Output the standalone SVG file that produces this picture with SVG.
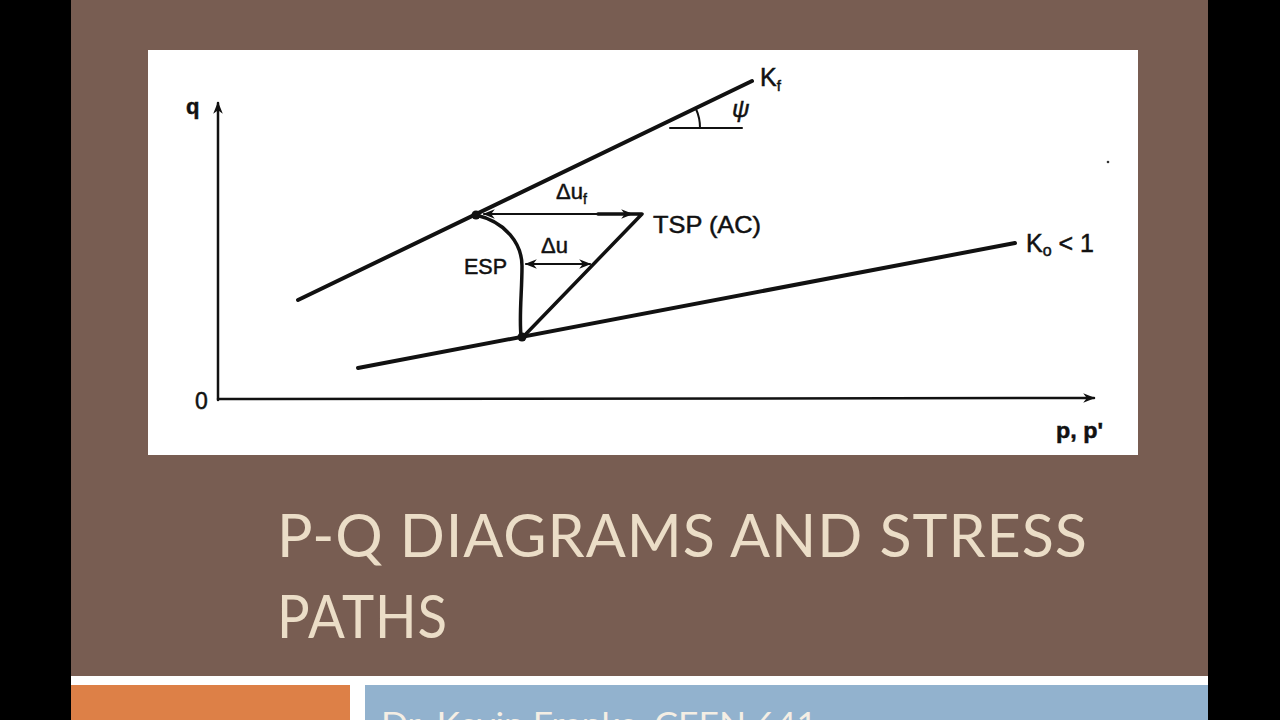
<svg xmlns="http://www.w3.org/2000/svg" width="1280" height="720" viewBox="0 0 1280 720">
<defs>
<style>
.ln{fill:none;stroke:#111;stroke-linecap:round;stroke-linejoin:round}
.lbl{font-family:"Liberation Sans",Arial,sans-serif;fill:#111;stroke:#111;stroke-width:0.5}
.title{font-family:Lato,"Noto Sans",sans-serif;fill:#EBDDC7;font-size:60px;letter-spacing:1px}
</style>
<marker id="ahs" viewBox="0 0 10 10" refX="9" refY="5" markerWidth="14" markerHeight="12" orient="auto-start-reverse" markerUnits="userSpaceOnUse">
<path d="M0,1 L10,5 L0,9 L3,5 Z" fill="#111"/>
</marker>
</defs>
<rect x="0" y="0" width="1280" height="720" fill="#000"/>
<rect x="71" y="0" width="1137" height="676" fill="#785D52"/>
<rect x="71" y="676" width="1137" height="44" fill="#FFFFFF"/>
<rect x="71" y="685" width="279" height="35" fill="#DD8047"/>
<rect x="365" y="685" width="843" height="35" fill="#92B2CE"/>
<text x="381" y="736" font-family="Lato,'Noto Sans',sans-serif" font-size="32" fill="#F4EEE4" textLength="436" lengthAdjust="spacingAndGlyphs">Dr. Kevin Franke, CEEN 641</text>

<g id="figure">
<rect x="148" y="50" width="990" height="405" fill="#FFFFFF"/>
</g>

<g id="axes">
<line class="ln" x1="218" y1="400" x2="218" y2="103" stroke-width="2.5" marker-end="url(#ahs)"/>
<line class="ln" x1="218" y1="399" x2="1094" y2="398" stroke-width="2.5" marker-end="url(#ahs)"/>
<text class="lbl" x="186" y="114" font-size="22" font-weight="bold">q</text>
<text class="lbl" x="195" y="409" font-size="23">0</text>
<text class="lbl" x="1056" y="438" font-size="22" font-weight="bold" textLength="47" lengthAdjust="spacingAndGlyphs">p, p'</text>
</g>

<g id="connectors">
<line id="kf-line" class="ln" x1="298" y1="300" x2="752" y2="81" stroke-width="4"/>
<line id="ko-line" class="ln" x1="358" y1="368" x2="1015" y2="243" stroke-width="4"/>
<line id="psi-ref" class="ln" x1="670" y1="128" x2="742" y2="128" stroke-width="2"/>
<path id="psi-arc" class="ln" d="M700,128 A45,45 0 0 0 696,109" stroke-width="2"/>
<path id="tsp" class="ln" d="M523,337 L642,214 L598,214" stroke-width="3.5"/>
<line id="duf" class="ln" x1="484" y1="214" x2="632" y2="214" stroke-width="2" marker-start="url(#ahs)" marker-end="url(#ahs)"/>
<path id="esp" class="ln" d="M476,215 C506,222 522,244 522,266 C522,292 519,315 521,336" stroke-width="3.5"/>
<line id="du" class="ln" x1="526" y1="264" x2="590" y2="264" stroke-width="2" marker-start="url(#ahs)" marker-end="url(#ahs)"/>
<circle cx="476" cy="215" r="4.5" fill="#111"/>
<circle cx="522" cy="337" r="4.5" fill="#111"/>
<circle cx="1108" cy="162" r="1.3" fill="#333"/>
</g>

<g id="labels">
<text class="lbl" x="760" y="86" font-size="25">K<tspan font-size="15" dy="5">f</tspan></text>
<text class="lbl" x="732" y="117" font-size="24" font-style="italic">ψ</text>
<text class="lbl" x="1026" y="252" font-size="25">K<tspan font-size="16" dy="4">o</tspan><tspan dy="-4"> &lt; 1</tspan></text>
<text class="lbl" x="556" y="199" font-size="22">Δu<tspan font-size="14" dy="5">f</tspan></text>
<text class="lbl" x="653" y="233" font-size="24" textLength="108" lengthAdjust="spacingAndGlyphs">TSP (AC)</text>
<text class="lbl" x="464" y="274" font-size="22" textLength="43" lengthAdjust="spacingAndGlyphs">ESP</text>
<text class="lbl" x="541" y="253" font-size="22">Δu</text>
</g>

<g id="title">
<text class="title" x="277" y="557" textLength="811" lengthAdjust="spacingAndGlyphs">P-Q DIAGRAMS AND STRESS</text>
<text class="title" x="277" y="638" textLength="171" lengthAdjust="spacingAndGlyphs">PATHS</text>
</g>
</svg>
